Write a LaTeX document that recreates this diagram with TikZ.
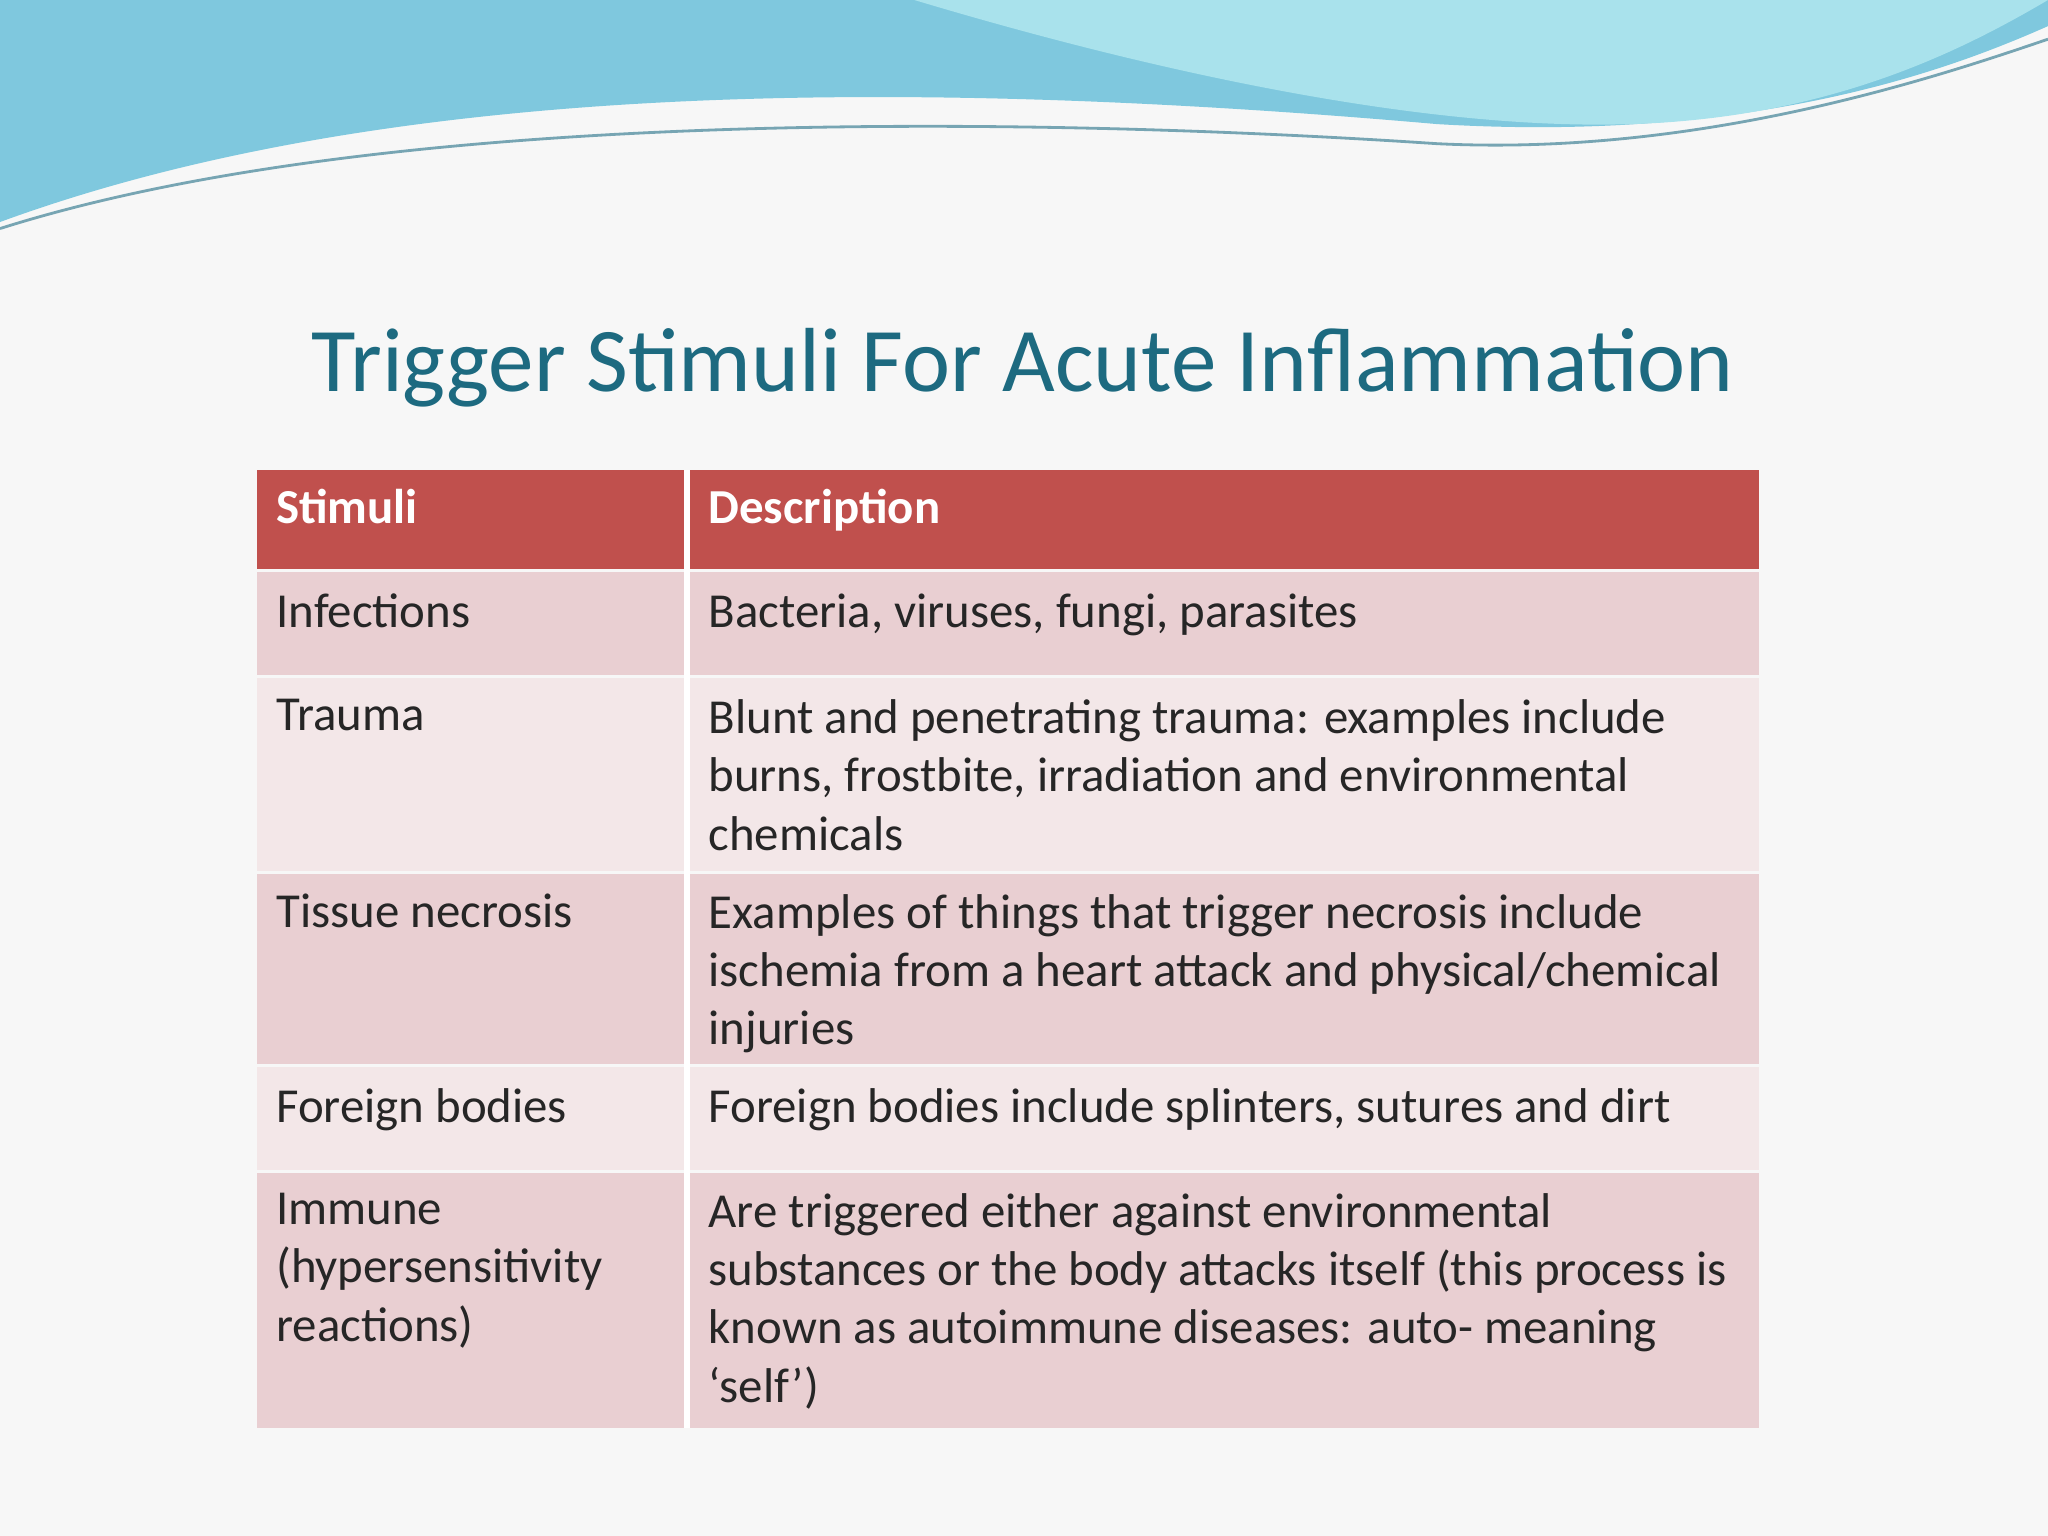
\documentclass[tikz,border=0pt]{standalone}
\usepackage{fontspec}
\setmainfont{Carlito}
\definecolor{headred}{HTML}{C0504D}
\definecolor{rowdark}{HTML}{E9CFD2}
\definecolor{rowlight}{HTML}{F3E7E8}
\definecolor{titleblue}{HTML}{1D6A80}
\definecolor{wavea}{HTML}{7FC8DE}
\definecolor{waveb}{HTML}{A9E2EC}
\tikzset{
  cell/.style={anchor=north west, align=left, inner sep=0pt, font=\fontsize{13.9}{16.6}\selectfont, text=black!85},
  headcell/.style={cell, text=white, font=\fontsize{13.9}{16.6}\selectfont\bfseries}
}
\begin{document}
\begin{tikzpicture}[x=0.01306cm, y=-0.01306cm]
\useasboundingbox (0,0) rectangle (1568,1176);
\fill[white!97!black] (0,0) rectangle (1568,1176);
% waves
\fill[wavea] (0,0) -- (0,170) .. controls (300,60) and (700,60) .. (1100,95) .. controls (1350,110) and (1500,50) .. (1568,20) -- (1568,0) -- cycle;
\fill[waveb] (700,0) .. controls (900,60) and (1100,100) .. (1250,95) .. controls (1400,90) and (1500,40) .. (1568,0) -- cycle;
\draw[titleblue!60, thick] (0,175) .. controls (300,80) and (800,90) .. (1100,110) .. controls (1300,120) and (1480,60) .. (1568,30);
\node[anchor=base, text=titleblue, font=\fontsize{25.9}{30}\selectfont] (title) at (783,300) {Trigger Stimuli For Acute Inflammation};
% table
\fill[headred] (197,360) rectangle (1347,436);
\fill[rowdark] (197,438) rectangle (1347,517);
\fill[rowlight] (197,519) rectangle (1347,667);
\fill[rowdark] (197,669) rectangle (1347,815);
\fill[rowlight] (197,817) rectangle (1347,896);
\fill[rowdark] (197,898) rectangle (1347,1093);
\draw[white, line width=1.5pt] (526,360) -- (526,1093);
\node[headcell] (hs) at (211,374) {Stimuli};
\node[headcell] (hd) at (542,374) {Description};
\node[cell] (s1) at (211,454) {Infections};
\node[cell] (d1) at (542,454) {Bacteria, viruses, fungi, parasites};
\node[cell] (s2) at (211,535) {Trauma};
\node[cell] (d2) at (542,535) {Blunt and penetrating trauma: examples include\\burns, frostbite, irradiation and environmental\\chemicals};
\node[cell] (s3) at (211,684) {Tissue necrosis};
\node[cell] (d3) at (542,684) {Examples of things that trigger necrosis include\\ischemia from a heart attack and physical/chemical\\injuries};
\node[cell] (s4) at (211,833) {Foreign bodies};
\node[cell] (d4) at (542,833) {Foreign bodies include splinters, sutures and dirt};
\node[cell] (s5) at (211,913) {Immune\\(hypersensitivity\\reactions)};
\node[cell] (d5) at (542,913) {Are triggered either against environmental\\substances or the body attacks itself (this process is\\known as autoimmune diseases: auto- meaning\\‘self’)};
\end{tikzpicture}
\end{document}
